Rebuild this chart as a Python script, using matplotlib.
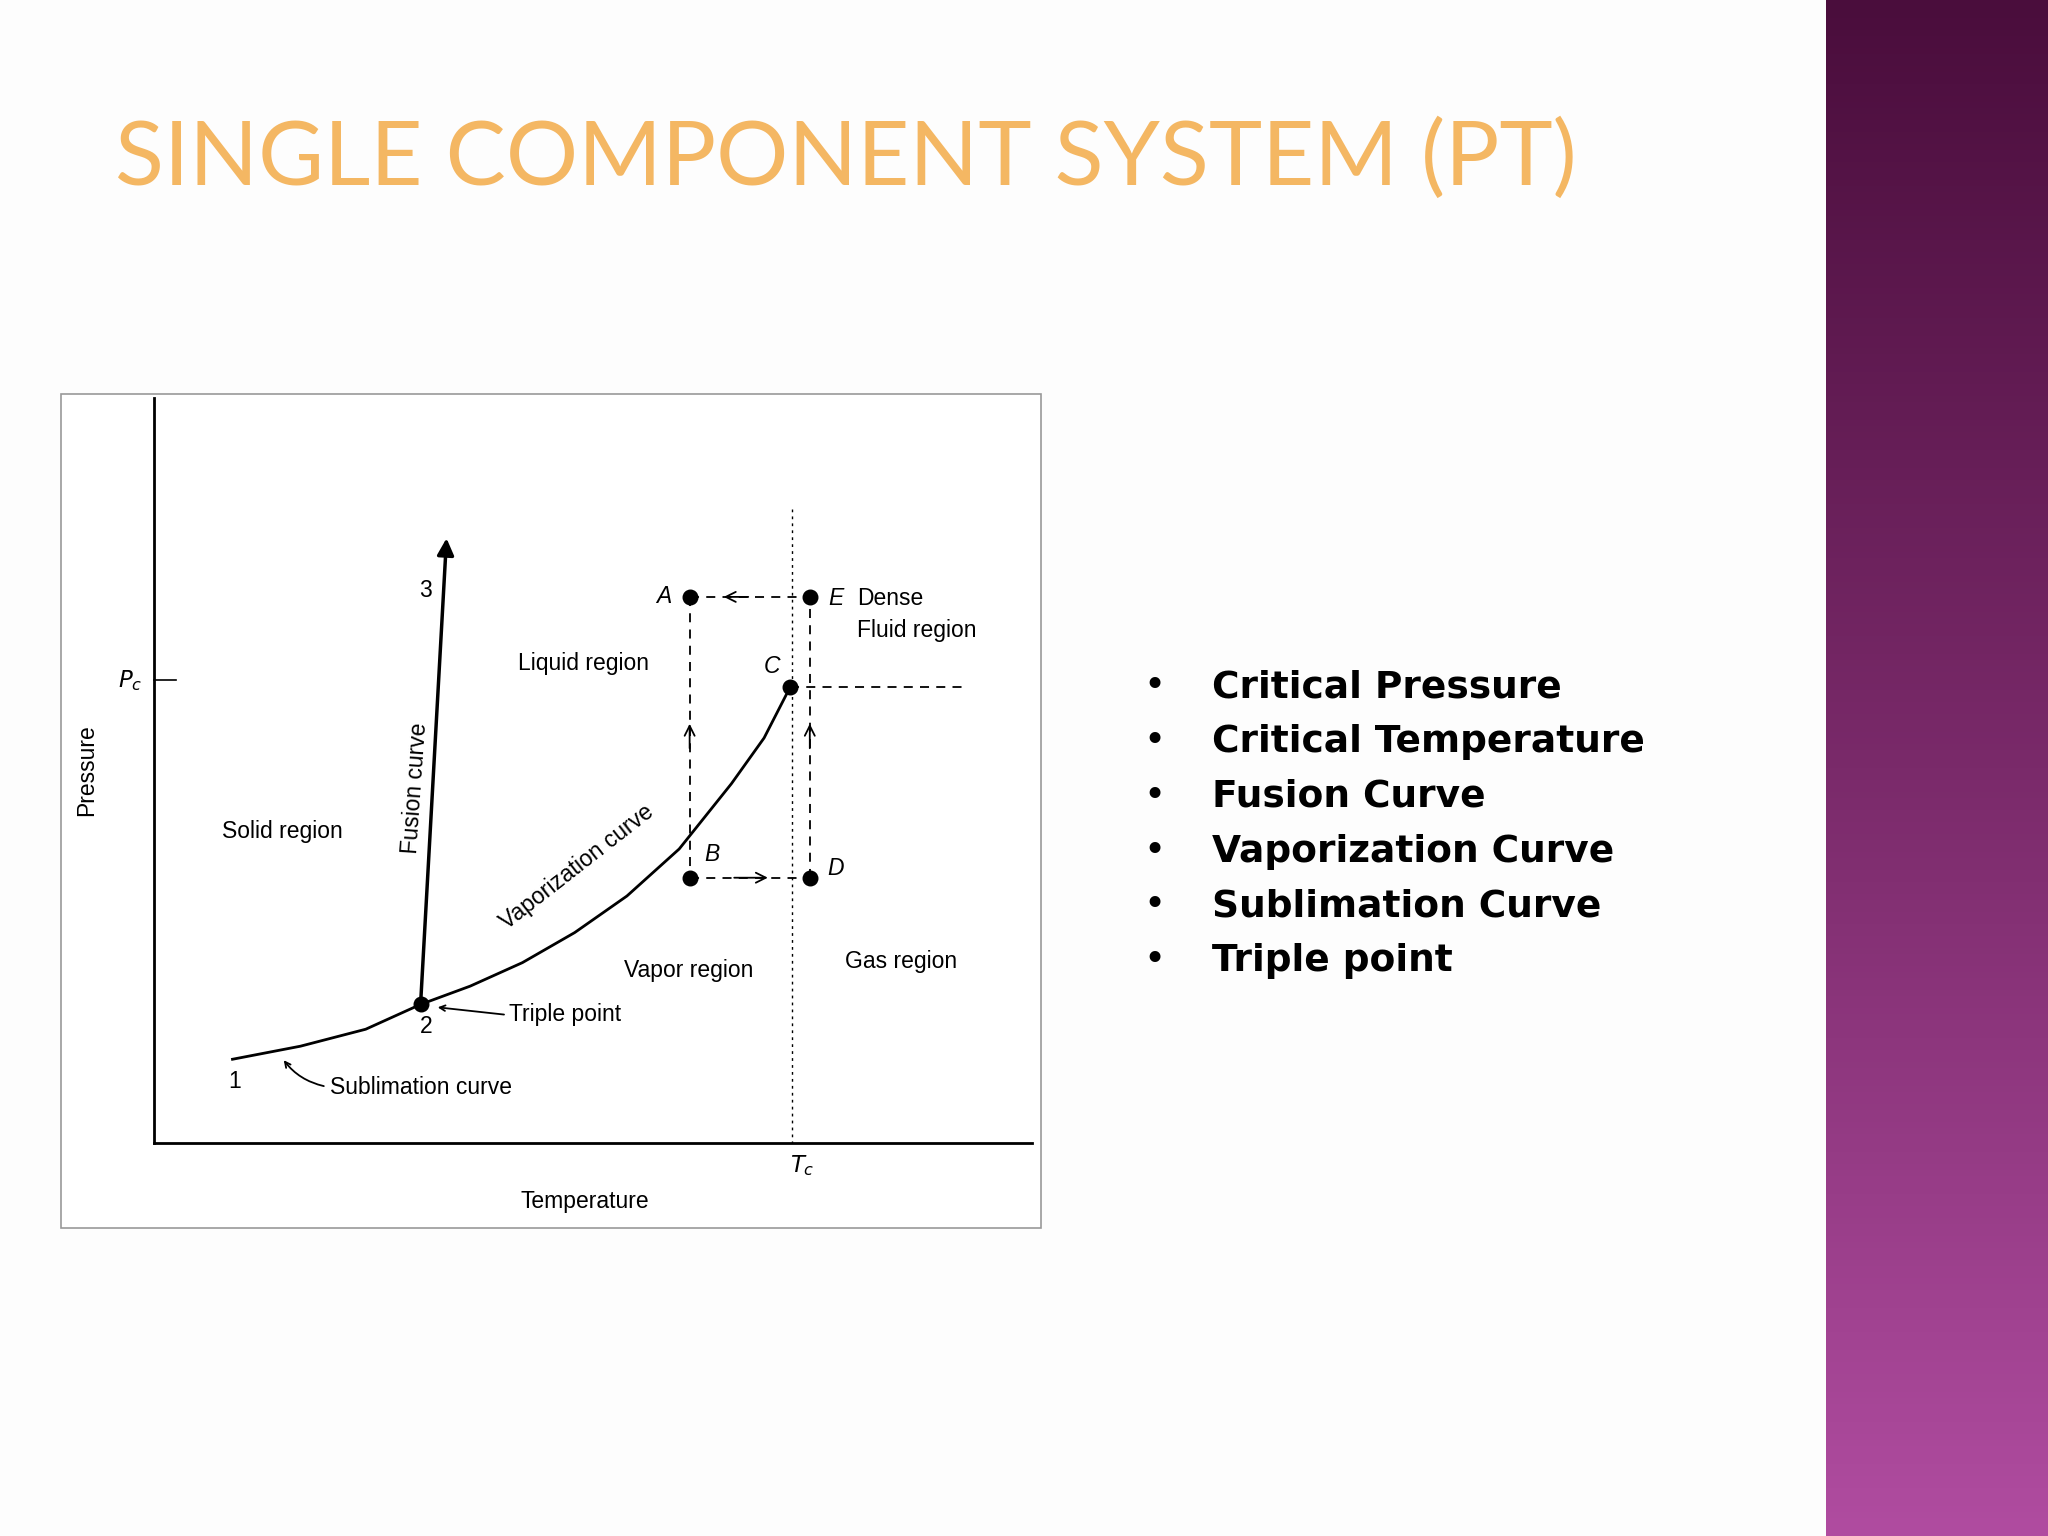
import matplotlib
matplotlib.use("Agg")
import matplotlib.pyplot as plt
import numpy as np
from matplotlib.patches import Rectangle
from matplotlib.colors import LinearSegmentedColormap

title = "SINGLE COMPONENT SYSTEM (PT)"
bullets = ["Critical Pressure", "Critical Temperature", "Fusion Curve",
           "Vaporization Curve", "Sublimation Curve", "Triple point"]

# diagram geometry (in slide pixel units of a 1568x1176 canvas)
sub_x = [178, 230, 280, 322]
sub_y = [811, 801, 788, 769]
vap_x = [322, 360, 400, 440, 480, 520, 560, 585, 605]
vap_y = [769, 755, 737, 714, 686, 650, 600, 565, 526]
fus_x = [322, 342]
fus_y = [769, 410]
pt_names = ["A", "E", "C", "B", "D", "2"]
pt_x = [528, 620, 605, 528, 620, 322]
pt_y = [457, 457, 526, 672, 672, 769]

W, H = 1568, 1176
fig = plt.figure(figsize=(20.48, 15.36), dpi=100)
bg = fig.add_axes([0, 0, 1, 1])
bg.axis("off")
bg.add_patch(Rectangle((0, 0), W, H, color="#fdfdfd", zorder=0))
grad = np.linspace(0, 1, 256).reshape(-1, 1)
cm = LinearSegmentedColormap.from_list("p", ["#4a0d3c", "#7a2a6a", "#b04ca0"])
bg.imshow(grad, cmap=cm, extent=(1398, W, H, 0), aspect="auto", zorder=1)
bg.set_xlim(0, W); bg.set_ylim(H, 0)

bg.text(88, 122, title, fontsize=65, color="#f4b763", family="Lato",
        va="center", ha="left", zorder=3)

for i, b in enumerate(bullets):
    y = 526 + 42 * i
    bg.text(884, y, "•", fontsize=27, va="center", ha="center", color="black")
    bg.text(928, y, b, fontsize=27, fontweight="bold", va="center",
            family="DejaVu Sans", color="black")

bg.add_patch(Rectangle((47, 302), 750, 638, facecolor="white", edgecolor="#999999", lw=1.2, zorder=2))
Z = 4
lk = dict(color="black", zorder=Z)
bg.plot([118, 118], [305, 875], lw=2, **lk)
bg.plot([118, 790], [875, 875], lw=2, **lk)
bg.plot([118, 135], [521, 521], lw=1.2, **lk)
bg.plot(sub_x, sub_y, lw=2, **lk)
bg.plot(vap_x, vap_y, lw=2, **lk)
bg.annotate("", xy=(fus_x[1], fus_y[1]), xytext=(fus_x[0], fus_y[0]),
            arrowprops=dict(arrowstyle="-|>", lw=2.5, color="black", mutation_scale=25), zorder=Z)
bg.scatter(pt_x, pt_y, s=110, color="black", zorder=5)

dk = dict(color="black", lw=1.3, ls=(0, (5, 4)), zorder=Z)
xA, xE, xC, xB, xD = pt_x[0], pt_x[1], pt_x[2], pt_x[3], pt_x[4]
yA, yE, yC, yB, yD = pt_y[0], pt_y[1], pt_y[2], pt_y[3], pt_y[4]
bg.plot([xA, xE], [yA, yE], **dk)
bg.plot([xA, xB], [yA, yB], **dk)
bg.plot([xB, xD], [yB, yD], **dk)
bg.plot([xD, xE], [yD, yE], **dk)
bg.plot([xC, 740], [yC, yC], **dk)
bg.plot([606, 606], [390, 875], color="black", lw=1, ls=(0, (2, 3)), zorder=Z)
ak = dict(arrowstyle="->", lw=1.3, color="black", mutation_scale=18)
bg.annotate("", xy=(552, yA), xytext=(575, yA), arrowprops=ak)
bg.annotate("", xy=(xA, 552), xytext=(xA, 575), arrowprops=ak)
bg.annotate("", xy=(590, yB), xytext=(560, yB), arrowprops=ak)
bg.annotate("", xy=(xD, 552), xytext=(xD, 575), arrowprops=ak)
bg.annotate("", xy=(333, 771), xytext=(388, 777), arrowprops=dict(arrowstyle="->", lw=1.3, color="black"))
bg.annotate("", xy=(216, 810), xytext=(250, 832), arrowprops=dict(arrowstyle="->", lw=1.3, color="black",
            connectionstyle="arc3,rad=-0.2"))

fs = 16.5
tk = dict(fontsize=fs, color="black", zorder=Z, family="Liberation Sans")
bg.text(326, 452, "3", ha="center", va="center", **tk)
bg.text(326, 786, "2", ha="center", va="center", **tk)
bg.text(180, 828, "1", ha="center", va="center", **tk)
bg.text(447, 508, "Liquid region", ha="center", va="center", **tk)
bg.text(216, 637, "Solid region", ha="center", va="center", **tk)
bg.text(318, 603, "Fusion curve", ha="center", va="center", rotation=86, **tk)
bg.text(442, 664, "Vaporization curve", ha="center", va="center", rotation=38, **tk)
bg.text(527, 743, "Vapor region", ha="center", va="center", **tk)
bg.text(690, 736, "Gas region", ha="center", va="center", **tk)
bg.text(390, 777, "Triple point", ha="left", va="center", **tk)
bg.text(253, 833, "Sublimation curve", ha="left", va="center", **tk)
bg.text(508, 457, "A", ha="center", va="center", style="italic", **tk)
bg.text(640, 458, "E", ha="center", va="center", style="italic", **tk)
bg.text(656, 458, "Dense", ha="left", va="center", **tk)
bg.text(656, 483, "Fluid region", ha="left", va="center", **tk)
bg.text(591, 510, "C", ha="center", va="center", style="italic", **tk)
bg.text(545, 654, "B", ha="center", va="center", style="italic", **tk)
bg.text(640, 665, "D", ha="center", va="center", style="italic", **tk)
bg.text(100, 521, "$P_c$", ha="center", va="center", fontsize=fs, zorder=Z)
bg.text(614, 892, "$T_c$", ha="center", va="center", fontsize=fs, zorder=Z)
bg.text(66, 590, "Pressure", ha="center", va="center", rotation=90, **tk)
bg.text(448, 920, "Temperature", ha="center", va="center", **tk)

fig.savefig("out.png", dpi=100)
